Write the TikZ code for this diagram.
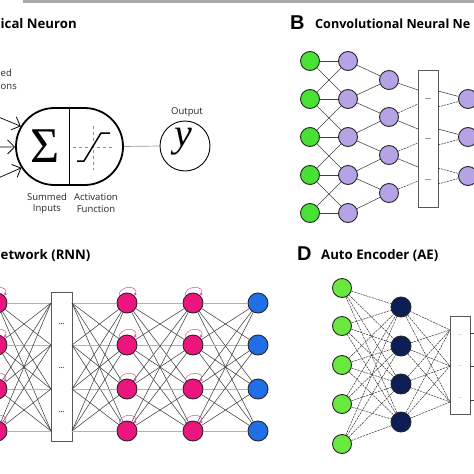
\documentclass[tikz,border=0pt]{standalone}
\usepackage{fontspec}
\setmainfont{Open Sans}
\newfontfamily\arialf{Liberation Sans}
\newfontfamily\serifg{Liberation Serif}
\usetikzlibrary{arrows.meta,shapes.misc}
\definecolor{cgreen}{RGB}{70,225,50}
\definecolor{cgreenb}{RGB}{105,232,62}
\definecolor{cpurple}{RGB}{182,162,228}
\definecolor{cpink}{RGB}{236,20,125}
\definecolor{cblue}{RGB}{32,110,232}
\definecolor{cnavy}{RGB}{12,30,85}
\definecolor{cbar}{RGB}{168,168,168}
\tikzset{
  neur/.style={circle, draw=black!85, line width=0.9pt, minimum size=19pt, inner sep=0pt},
  gn/.style={neur, fill=cgreen},
  gnb/.style={neur, fill=cgreenb},
  pu/.style={neur, fill=cpurple},
  pk/.style={neur, fill=cpink, minimum size=20pt},
  bl/.style={neur, fill=cblue, minimum size=20pt},
  nv/.style={neur, fill=cnavy, minimum size=20pt},
  layerbox/.style={draw=black!65, fill=white, line width=0.7pt, inner sep=0pt},
  dotlab/.style={font=\fontsize{7}{7}\selectfont\bfseries, text=black!75, inner sep=0pt},
  cedge/.style={draw=black!75, line width=0.55pt},
  hedge/.style={draw=black!30, line width=0.7pt},
  dedge/.style={draw=black!80, line width=0.5pt, dash pattern=on 2.2pt off 0.9pt},
  loopst/.style={draw=cpink!80, line width=0.5pt, -{Stealth[length=3pt,width=3pt]}},
  ttl/.style={font=\fontsize{13.2}{14}\selectfont\bfseries, anchor=base west, inner sep=0pt},
  letter/.style={font=\arialf\fontsize{20}{20}\selectfont\bfseries, anchor=base west, inner sep=0pt},
  lab/.style={font=\fontsize{9.5}{11}\selectfont, text=black!85, inner sep=0pt},
  inarr/.style={draw=black, line width=0.7pt, -{Straight Barb[length=7pt,width=14pt,line width=0.8pt]}},
}
\begin{document}
\begin{tikzpicture}[x=1pt,y=1pt]
\useasboundingbox (0,-474) rectangle (474,0);
\clip (0,-474) rectangle (474,0);
\fill[white] (0,-474) rectangle (474,0);
\fill[cbar] (23,0) rectangle (474,-2.5);

% ---------------- Panel A ----------------
\node[ttl] (tA) at (0.5,-28) {ical Neuron};
\node[lab, anchor=west] (wA) at (0.5,-73) {ed};
\node[lab, anchor=west] (wB) at (0.5,-87) {ons};
\node[draw, line width=1.8pt, rounded rectangle, minimum width=107pt, minimum height=77pt, inner sep=0pt] (neu) at (69.5,-146.5) {};
\draw[line width=0.8pt] (neu.north) -- (neu.south);
\node[inner sep=0pt] (sig) at (45,-146) {\serifg\fontsize{50}{50}\selectfont Σ};
\draw[dashed, black!45, line width=0.5pt] (73,-147) -- (113,-147) (93,-126) -- (93,-170);
\draw[line width=1.5pt] (77,-161) -- (84,-161) -- (101,-133) -- (110,-133);
\node[circle, draw, line width=0.9pt, minimum size=50pt, inner sep=0pt] (out) at (185,-146) {};
\node[inner sep=0pt] (yv) at (183,-142) {\serifg\itshape\fontsize{40}{40}\selectfont y};
\draw[draw=black!40, line width=0.7pt] (neu.east) -- (out.west);
\draw[draw=none, -{Straight Barb[length=8pt,width=18pt,line width=0.9pt,black]}] (150,-146) -- (out.west);
\node[lab] (outl) at (187,-112) {Output};
\node[lab] (s1) at (47,-197) {Summed};
\node[lab] (s2) at (47,-209) {Inputs};
\node[lab] (a1) at (96,-197) {Activation};
\node[lab] (a2) at (96,-209) {Function};
\coordinate (i1) at (-4,-116);
\coordinate (i2) at (-4,-147);
\coordinate (i3) at (-4,-179);
\draw[inarr] (i1) -- (neu);
\draw[inarr] (i2) -- (neu);
\draw[inarr] (i3) -- (neu);

% ---------------- Panel B ----------------
\node[letter] (bB) at (290,-29) {B};
\node[ttl, font=\fontsize{12.6}{14}\selectfont\bfseries] (tB) at (315,-28) {Convolutional Neural Ne};
\foreach \i/\y in {1/61,2/99,3/137,4/175,5/213} {
  \node[gn] (g\i) at (310,-\y) {};
  \node[pu] (p\i) at (348,-\y) {};
}
\foreach \i/\y in {1/80,2/117,3/155,4/193} {
  \node[pu] (q\i) at (389,-\y) {};
}
\node[layerbox, minimum width=20pt, minimum height=137pt] (bx) at (428,-138.5) {};
\node[dotlab] (bd1) at (428,-99) {...};
\node[dotlab] (bd2) at (428,-139) {...};
\node[dotlab] (bd3) at (428,-180) {...};
\foreach \i/\y in {1/99,2/137,3/176} {
  \node[pu] (r\i) at (468,-\y) {};
}
% green -> conv
\foreach \i in {1,...,5} { \draw[cedge] (g\i) -- (p\i); }
\foreach \i/\j in {1/2,2/3,3/4,4/5} { \draw[cedge] (g\i) -- (p\j); \draw[cedge] (g\j) -- (p\i); }
% conv -> pool
\foreach \i/\j in {1/2,2/3,3/4,4/5} { \draw[cedge] (p\i) -- (q\i); \draw[cedge] (p\j) -- (q\i); }
% pool -> box
\coordinate (bl1) at (418,-90);
\coordinate (bl2) at (418,-104);
\coordinate (bl3) at (418,-129);
\coordinate (bl4) at (418,-143);
\coordinate (bl5) at (418,-167);
\coordinate (bl6) at (418,-181);
\draw[cedge] (q1) -- (bl1);
\draw[dedge] (q2) -- (bl2);
\draw[cedge] (q2) -- (bl3);
\draw[dedge] (q3) -- (bl4);
\draw[cedge] (q3) -- (bl5);
\draw[dedge] (q4) -- (bl6);
% box -> dense
\foreach \i/\y in {1/99,2/137,3/176} {
  \coordinate (br\i a) at (438,-\y+8);
  \coordinate (br\i b) at (438,-\y-8);
}
\draw[cedge] (br1a) -- (r1); \draw[dedge] (br1b) -- (r1);
\draw[cedge] (br2a) -- (r2); \draw[dedge] (br2b) -- (r2);
\draw[dedge] (br3a) -- (r3); \draw[dedge] (br3b) -- (r3);

% ---------------- Panel C ----------------
\node[ttl] (tC) at (0.5,-259) {etwork (RNN)};
\foreach \i/\y in {1/303,2/345,3/389,4/431} {
  \node[pk] (k\i) at (-3,-\y) {};
  \node[pk] (m\i) at (127,-\y) {};
  \node[pk] (n\i) at (193,-\y) {};
  \node[bl] (u\i) at (258,-\y) {};
  \coordinate (cl\i) at (51,-\y);
  \coordinate (cr\i) at (72,-\y);
}
\node[layerbox, minimum width=21pt, minimum height=149pt] (cbx) at (61.5,-366.5) {};
\node[dotlab] (cd1) at (61.5,-324) {...};
\node[dotlab] (cd2) at (61.5,-368) {...};
\node[dotlab] (cd3) at (61.5,-412) {...};
\foreach \i in {1,...,4} {
  \foreach \j in {1,...,4} {
    \ifnum\i=\j
      \draw[hedge] (k\i) -- (cl\j);
      \draw[hedge] (cr\i) -- (m\j);
      \draw[hedge] (m\i) -- (n\j);
      \draw[hedge] (n\i) -- (u\j);
    \else
      \draw[cedge] (k\i) -- (cl\j);
      \draw[cedge] (cr\i) -- (m\j);
      \draw[cedge] (m\i) -- (n\j);
      \draw[cedge] (n\i) -- (u\j);
    \fi
  }
}
\foreach \i in {1,...,4} {
  \draw[loopst] (k\i.140) .. controls +(95:12) and +(60:12) .. (k\i.45);
  \draw[loopst] (m\i.140) .. controls +(95:12) and +(60:12) .. (m\i.45);
  \draw[loopst] (n\i.140) .. controls +(95:12) and +(60:12) .. (n\i.45);
}

% ---------------- Panel D ----------------
\node[letter] (bD) at (297,-260) {D};
\node[ttl] (tD) at (321,-259) {Auto Encoder (AE)};
\foreach \i/\y in {1/288,2/326,3/365,4/404,5/444} {
  \node[gnb] (e\i) at (342,-\y) {};
}
\foreach \i/\y in {1/307,2/346,3/384,4/422} {
  \node[nv] (v\i) at (401,-\y) {};
}
\node[layerbox, minimum width=20pt, minimum height=98pt] (dbx) at (460,-365) {};
\node[dotlab, font=\fontsize{4}{4}\selectfont\bfseries, text=black!50] (dd1) at (460,-335) {...};
\node[dotlab, font=\fontsize{4}{4}\selectfont\bfseries, text=black!50] (dd2) at (460,-366) {...};
\node[dotlab, font=\fontsize{4}{4}\selectfont\bfseries, text=black!50] (dd3) at (460,-398) {...};
\foreach \i in {1,...,5} { \foreach \j in {1,...,4} { \draw[dedge] (e\i) -- (v\j); } }
\coordinate (dl1) at (450,-330);
\coordinate (dl2) at (450,-366);
\coordinate (dl3) at (450,-402);
\foreach \i in {1,...,4} { \foreach \j in {1,2,3} { \draw[dedge] (v\i) -- (dl\j); } }
\coordinate (dr1) at (470,-333);
\coordinate (dr2) at (470,-366);
\coordinate (dr3) at (470,-400);
\coordinate (dx1) at (476,-333);
\coordinate (dx2) at (476,-366);
\coordinate (dx3) at (476,-400);
\foreach \j in {1,2,3} { \draw[cedge] (dr\j) -- (dx\j); }
\end{tikzpicture}
\end{document}
